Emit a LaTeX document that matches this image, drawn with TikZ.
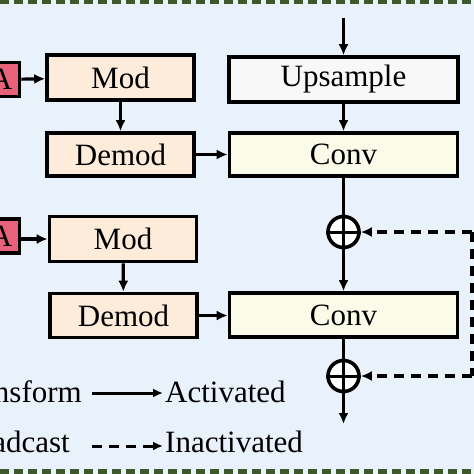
\documentclass[tikz,border=0pt]{standalone}
\usepackage{fontspec}
\setmainfont{Liberation Serif}
\usetikzlibrary{arrows.meta}
\definecolor{bgblue}{RGB}{233,241,251}
\definecolor{modfill}{RGB}{253,236,218}
\definecolor{convfill}{RGB}{250,251,232}
\definecolor{upfill}{RGB}{248,248,248}
\definecolor{afill}{RGB}{232,98,122}
\definecolor{borderg}{RGB}{62,88,44}
\tikzset{
  blk/.style={draw=black, line width=3.6pt, inner sep=0pt, font=\fontsize{31}{36}\selectfont},
  modbox/.style={blk, fill=modfill, minimum width=147pt, minimum height=43pt},
  convbox/.style={blk, fill=convfill, minimum width=228pt, minimum height=43pt},
  abox/.style={blk, fill=afill, minimum width=37pt, minimum height=34pt},
  oplus/.style={draw=black, line width=3.6pt, circle, minimum size=31pt, inner sep=0pt, fill=white},
  con/.style={line width=3.2pt, -{Latex[length=11pt,width=10pt]}},
  dcon/.style={line width=3.2pt, dash pattern=on 10pt off 7pt, -{Latex[length=11pt,width=10pt]}},
  dline/.style={line width=3.2pt, dash pattern=on 10pt off 7pt},
  lbl/.style={inner sep=0pt, font=\fontsize{31}{36}\selectfont},
}
\begin{document}
\begin{tikzpicture}[x=1pt,y=-1pt]
\useasboundingbox (0,0) rectangle (474,474);
\clip (0,0) rectangle (474,474);
\fill[bgblue] (0,0) rectangle (474,474);
\draw[borderg, line width=4pt, dash pattern=on 9pt off 5pt] (0,1.5) -- (474,1.5);
\draw[borderg, line width=5pt, dash pattern=on 9pt off 5pt] (0,471.5) -- (474,471.5);

% blocks
\node[abox] (a1) at (1,79.5) {A};
\node[modbox, minimum height=45pt] (mod1) at (120.5,77.5) {Mod};
\node[modbox] (demod1) at (120.5,154.5) {Demod};
\node[blk, fill=upfill, minimum width=229pt, minimum height=45pt] (up) at (343.5,79.5) {Upsample};
\node[convbox] (conv1) at (343.5,154.5) {Conv};
\node[oplus] (p1) at (343.5,232) {};
\draw[line width=3pt] (p1.north) -- (p1.south) (p1.west) -- (p1.east);

\node[abox] (a2) at (1,236) {A};
\node[modbox, minimum height=45pt] (mod2) at (123,239) {Mod};
\node[modbox, minimum height=44pt] (demod2) at (123.5,315.5) {Demod};
\node[convbox, minimum height=44pt] (conv2) at (343.5,315) {Conv};
\node[oplus] (p2) at (343.5,376) {};
\draw[line width=3pt] (p2.north) -- (p2.south) (p2.west) -- (p2.east);

\coordinate (top) at (343.5,18);
\coordinate (bot) at (343.5,424);
\coordinate (r1) at (472,232);
\coordinate (r2) at (472,376);

% connectors
\draw[con] (top) -- (up.north);
\draw[con] (a1) -- (mod1);
\draw[con] (mod1) -- (demod1);
\draw[con] (demod1) -- (conv1);
\draw[con] (up) -- (conv1);
\draw[line width=3.2pt] (conv1) -- (p1);
\draw[con] (p1) -- (conv2);
\draw[con] (a2.east |- mod2.west) -- (mod2.west);
\draw[con] (mod2) -- (demod2);
\draw[con] (demod2) -- (conv2.west |- demod2.east);
\draw[line width=3.2pt] (conv2) -- (p2);
\draw[con] (p2) -- (bot);
\draw[dline] (r1) -- (r2);
\draw[dcon] (r1) -- (p1.east);
\draw[dcon] (r2) -- (p2.east);

% legend
\node[lbl, anchor=base east] (t1) at (82,402) {nsform};
\node[lbl, anchor=base west] (act) at (165,402) {Activated};
\coordinate (l1a) at (92,393);
\coordinate (l1b) at (163,393);
\draw[line width=3pt, -{Latex[length=10pt,width=9pt]}] (l1a) -- (l1b);
\node[lbl, anchor=base east] (t2) at (70,452) {adcast};
\node[lbl, anchor=base west] (inact) at (165,452) {Inactivated};
\coordinate (l2a) at (92,446);
\coordinate (l2b) at (163,446);
\draw[line width=3pt, dash pattern=on 10pt off 7pt, -{Latex[length=10pt,width=9pt]}] (l2a) -- (l2b);
\end{tikzpicture}
\end{document}
